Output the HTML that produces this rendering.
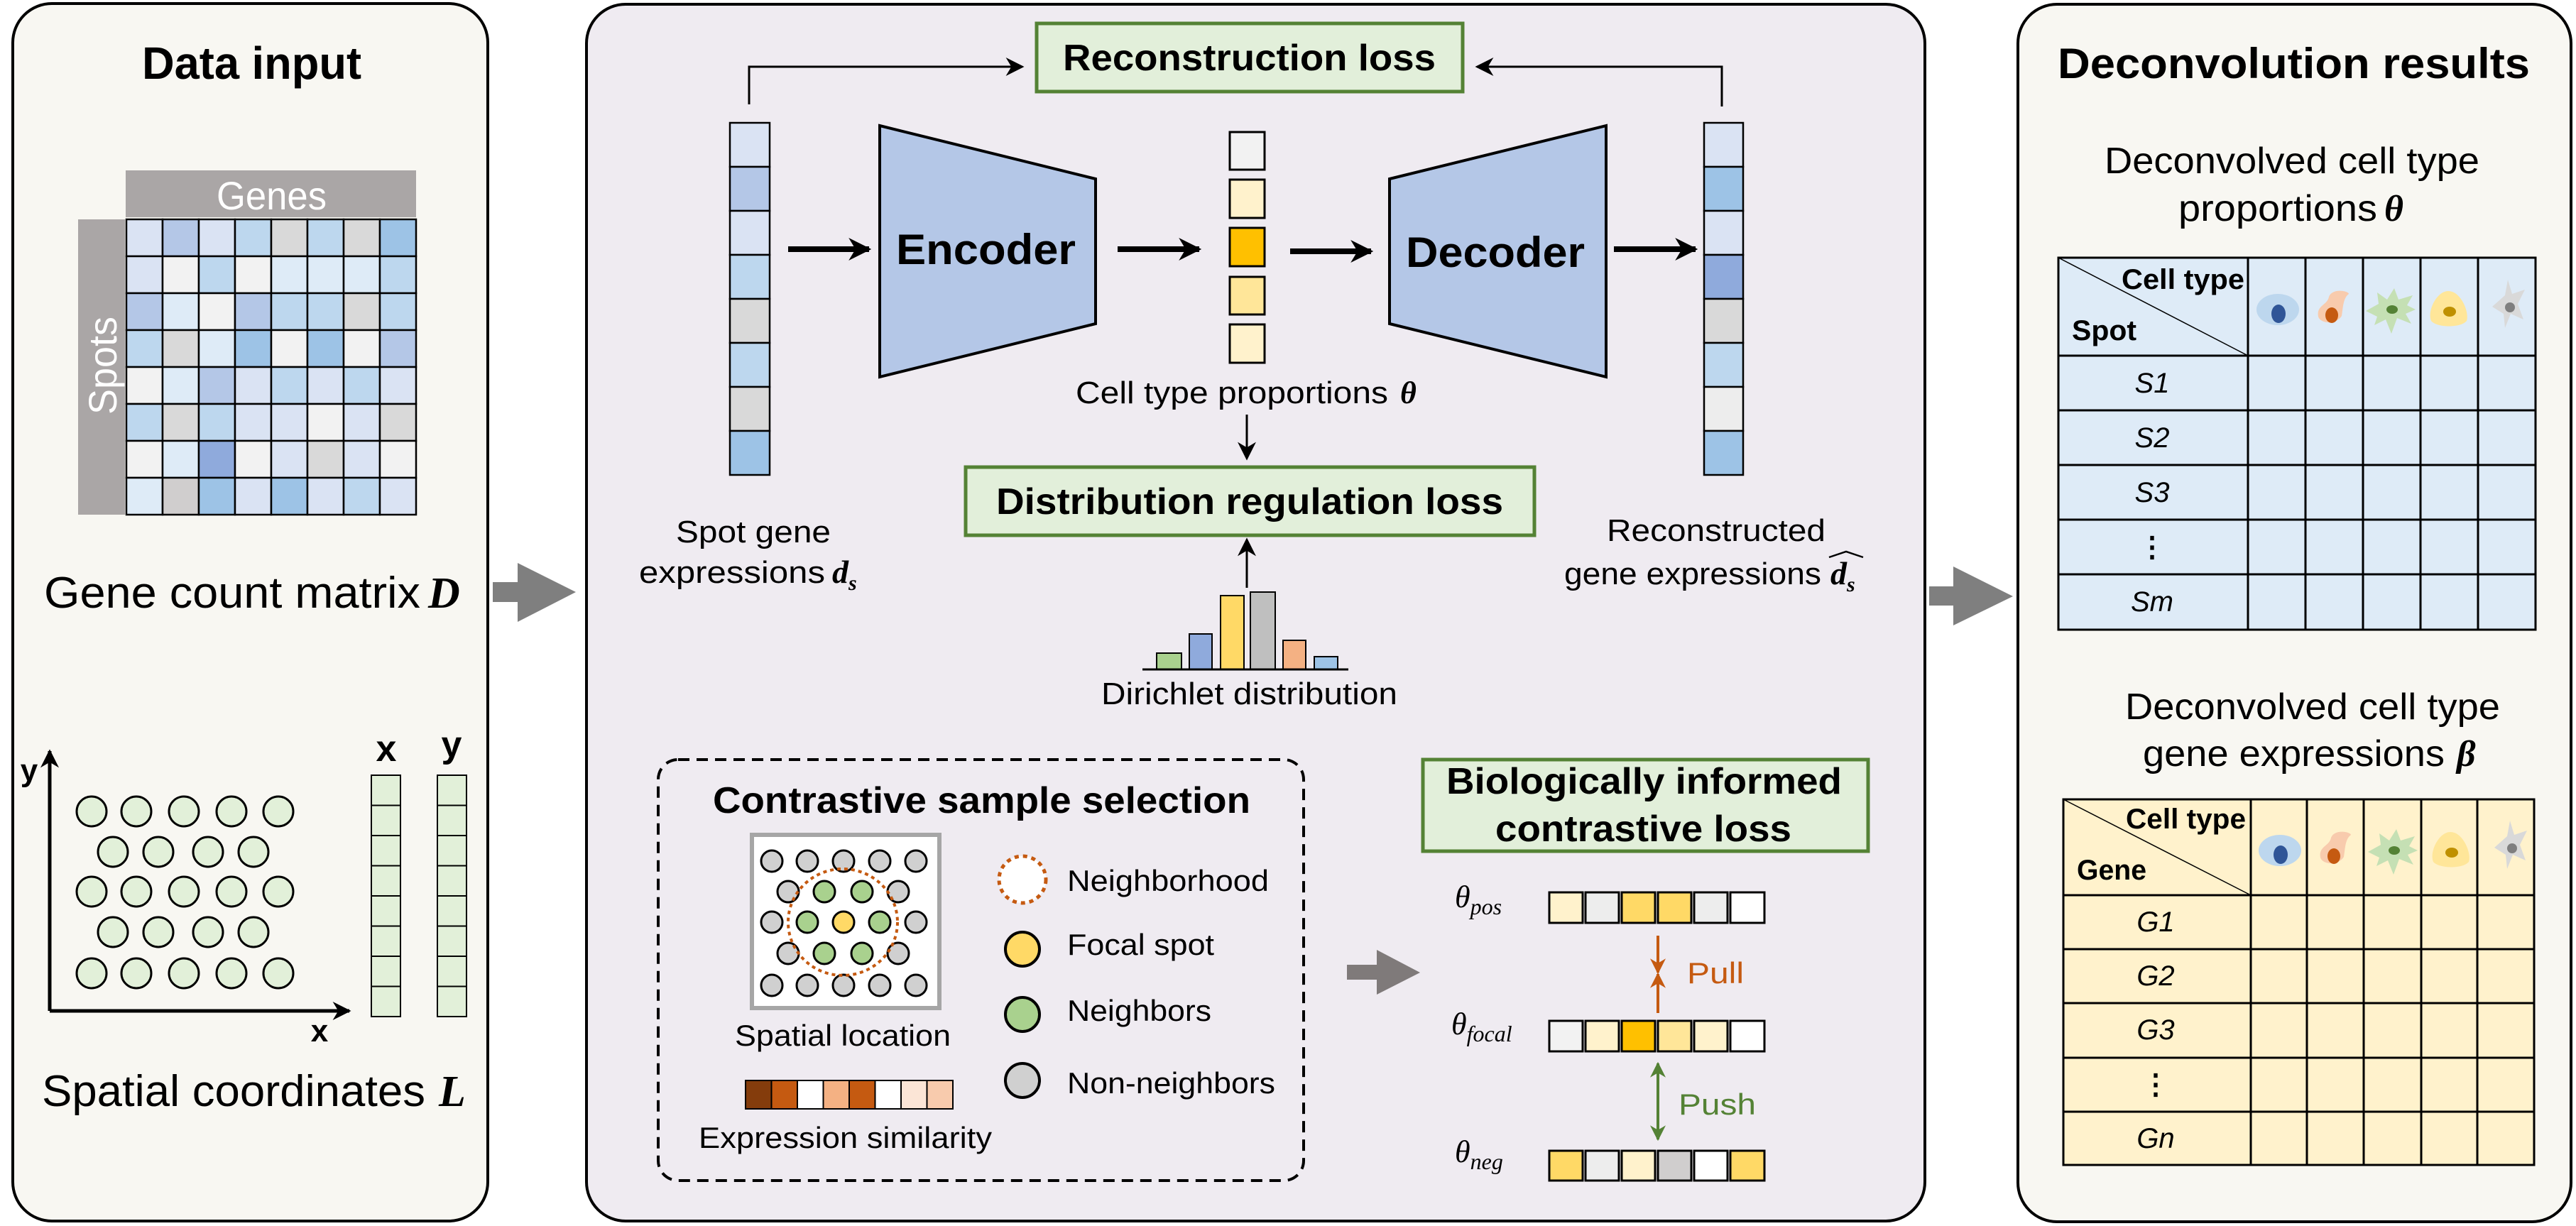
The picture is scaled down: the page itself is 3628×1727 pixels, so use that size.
<!DOCTYPE html>
<html><head><meta charset="utf-8"><style>
html,body{margin:0;padding:0;background:#fff}
svg{display:block}
text{font-family:"Liberation Sans",sans-serif}
.b{font-weight:bold}
.m{font-family:"Liberation Serif",serif;font-style:italic}
</style></head><body>
<svg width="3628" height="1727" viewBox="0 0 3628 1727" xmlns="http://www.w3.org/2000/svg">
<defs>
<marker id="ah" viewBox="0 0 10 10" refX="9" refY="5" markerWidth="6" markerHeight="6" orient="auto-start-reverse" markerUnits="userSpaceOnUse"><path d="M0,0L10,5L0,10L3,5z" fill="#000"/></marker>
<marker id="ahs" viewBox="0 0 10 10" refX="9" refY="5" markerWidth="26" markerHeight="26" orient="auto-start-reverse" markerUnits="userSpaceOnUse"><path d="M0,0L10,5L0,10L3,5z" fill="#000"/></marker>
<marker id="ahb" viewBox="0 0 10 10" refX="9" refY="5" markerWidth="32" markerHeight="32" orient="auto-start-reverse" markerUnits="userSpaceOnUse"><path d="M0,0L10,5L0,10L3,5z" fill="#000"/></marker>
<marker id="aho" viewBox="0 0 10 10" refX="9" refY="5" markerWidth="22" markerHeight="22" orient="auto-start-reverse" markerUnits="userSpaceOnUse"><path d="M0,0L10,5L0,10L3,5z" fill="#c55a11"/></marker>
<marker id="ahg" viewBox="0 0 10 10" refX="9" refY="5" markerWidth="22" markerHeight="22" orient="auto-start-reverse" markerUnits="userSpaceOnUse"><path d="M0,0L10,5L0,10L3,5z" fill="#548235"/></marker>
</defs>

<!-- LEFT PANEL -->
<rect x="18" y="5" width="669" height="1715" rx="55" fill="#f8f7f2" stroke="#000" stroke-width="4"/>
<text x="200" y="111" class="b" font-size="64" textLength="309" lengthAdjust="spacingAndGlyphs">Data input</text>
<rect x="177" y="240" width="409" height="66" fill="#aaa6a6"/>
<text x="305" y="295" font-size="56" fill="#fff" textLength="155" lengthAdjust="spacingAndGlyphs">Genes</text>
<rect x="110" y="309" width="66" height="416" fill="#aaa6a6"/>
<text transform="translate(164,584) rotate(-90)" font-size="56" fill="#fff" textLength="138" lengthAdjust="spacingAndGlyphs">Spots</text>
<g stroke="#000" stroke-width="2.5">
<rect x="178" y="309" width="51" height="52" fill="#dae3f3"/><rect x="229" y="309" width="51" height="52" fill="#b4c7e7"/><rect x="280" y="309" width="51" height="52" fill="#dae3f3"/><rect x="331" y="309" width="51" height="52" fill="#bdd7ee"/><rect x="382" y="309" width="51" height="52" fill="#d9d9d9"/><rect x="433" y="309" width="51" height="52" fill="#bdd7ee"/><rect x="484" y="309" width="51" height="52" fill="#d9d9d9"/><rect x="535" y="309" width="51" height="52" fill="#9dc3e6"/>
<rect x="178" y="361" width="51" height="52" fill="#dae3f3"/><rect x="229" y="361" width="51" height="52" fill="#f2f2f2"/><rect x="280" y="361" width="51" height="52" fill="#bdd7ee"/><rect x="331" y="361" width="51" height="52" fill="#f2f2f2"/><rect x="382" y="361" width="51" height="52" fill="#deebf7"/><rect x="433" y="361" width="51" height="52" fill="#deebf7"/><rect x="484" y="361" width="51" height="52" fill="#deebf7"/><rect x="535" y="361" width="51" height="52" fill="#bdd7ee"/>
<rect x="178" y="413" width="51" height="52" fill="#b4c7e7"/><rect x="229" y="413" width="51" height="52" fill="#deebf7"/><rect x="280" y="413" width="51" height="52" fill="#f2f2f2"/><rect x="331" y="413" width="51" height="52" fill="#b4c7e7"/><rect x="382" y="413" width="51" height="52" fill="#bdd7ee"/><rect x="433" y="413" width="51" height="52" fill="#bdd7ee"/><rect x="484" y="413" width="51" height="52" fill="#d9d9d9"/><rect x="535" y="413" width="51" height="52" fill="#bdd7ee"/>
<rect x="178" y="465" width="51" height="52" fill="#bdd7ee"/><rect x="229" y="465" width="51" height="52" fill="#d9d9d9"/><rect x="280" y="465" width="51" height="52" fill="#deebf7"/><rect x="331" y="465" width="51" height="52" fill="#9dc3e6"/><rect x="382" y="465" width="51" height="52" fill="#f2f2f2"/><rect x="433" y="465" width="51" height="52" fill="#9dc3e6"/><rect x="484" y="465" width="51" height="52" fill="#f2f2f2"/><rect x="535" y="465" width="51" height="52" fill="#b4c7e7"/>
<rect x="178" y="517" width="51" height="52" fill="#f2f2f2"/><rect x="229" y="517" width="51" height="52" fill="#deebf7"/><rect x="280" y="517" width="51" height="52" fill="#b4c7e7"/><rect x="331" y="517" width="51" height="52" fill="#dae3f3"/><rect x="382" y="517" width="51" height="52" fill="#bdd7ee"/><rect x="433" y="517" width="51" height="52" fill="#dae3f3"/><rect x="484" y="517" width="51" height="52" fill="#bdd7ee"/><rect x="535" y="517" width="51" height="52" fill="#dae3f3"/>
<rect x="178" y="569" width="51" height="52" fill="#bdd7ee"/><rect x="229" y="569" width="51" height="52" fill="#d9d9d9"/><rect x="280" y="569" width="51" height="52" fill="#bdd7ee"/><rect x="331" y="569" width="51" height="52" fill="#dae3f3"/><rect x="382" y="569" width="51" height="52" fill="#dae3f3"/><rect x="433" y="569" width="51" height="52" fill="#f2f2f2"/><rect x="484" y="569" width="51" height="52" fill="#dae3f3"/><rect x="535" y="569" width="51" height="52" fill="#d9d9d9"/>
<rect x="178" y="621" width="51" height="52" fill="#f2f2f2"/><rect x="229" y="621" width="51" height="52" fill="#deebf7"/><rect x="280" y="621" width="51" height="52" fill="#8faadc"/><rect x="331" y="621" width="51" height="52" fill="#f2f2f2"/><rect x="382" y="621" width="51" height="52" fill="#dae3f3"/><rect x="433" y="621" width="51" height="52" fill="#d9d9d9"/><rect x="484" y="621" width="51" height="52" fill="#dae3f3"/><rect x="535" y="621" width="51" height="52" fill="#f2f2f2"/>
<rect x="178" y="673" width="51" height="52" fill="#deebf7"/><rect x="229" y="673" width="51" height="52" fill="#d0cece"/><rect x="280" y="673" width="51" height="52" fill="#9dc3e6"/><rect x="331" y="673" width="51" height="52" fill="#dae3f3"/><rect x="382" y="673" width="51" height="52" fill="#9dc3e6"/><rect x="433" y="673" width="51" height="52" fill="#dae3f3"/><rect x="484" y="673" width="51" height="52" fill="#bdd7ee"/><rect x="535" y="673" width="51" height="52" fill="#dae3f3"/>
</g>
<text x="62" y="856" font-size="62" textLength="530" lengthAdjust="spacingAndGlyphs">Gene count matrix</text>
<text x="603" y="856" font-size="62" class="m" font-weight="bold">D</text>

<!-- axes -->
<line x1="70" y1="1424" x2="70" y2="1058" stroke="#000" stroke-width="5" marker-end="url(#ahs)"/>
<line x1="70" y1="1424" x2="492" y2="1424" stroke="#000" stroke-width="5" marker-end="url(#ahs)"/>
<text x="41" y="1100" class="b" font-size="44" text-anchor="middle">y</text>
<text x="450" y="1467" class="b" font-size="44" text-anchor="middle">x</text>
<g fill="#e2f0d9" stroke="#000" stroke-width="3">
<circle cx="129" cy="1143" r="21"/><circle cx="192" cy="1143" r="21"/><circle cx="259" cy="1143" r="21"/><circle cx="326" cy="1143" r="21"/><circle cx="392" cy="1143" r="21"/>
<circle cx="159" cy="1200" r="21"/><circle cx="223" cy="1200" r="21"/><circle cx="293" cy="1200" r="21"/><circle cx="357" cy="1200" r="21"/>
<circle cx="129" cy="1256" r="21"/><circle cx="192" cy="1256" r="21"/><circle cx="259" cy="1256" r="21"/><circle cx="326" cy="1256" r="21"/><circle cx="392" cy="1256" r="21"/>
<circle cx="159" cy="1313" r="21"/><circle cx="223" cy="1313" r="21"/><circle cx="293" cy="1313" r="21"/><circle cx="357" cy="1313" r="21"/>
<circle cx="129" cy="1371" r="21"/><circle cx="192" cy="1371" r="21"/><circle cx="259" cy="1371" r="21"/><circle cx="326" cy="1371" r="21"/><circle cx="392" cy="1371" r="21"/>
</g>
<g fill="#e2f0d9" stroke="#000" stroke-width="2">
<rect x="523" y="1092" width="41" height="42.5"/><rect x="523" y="1134.5" width="41" height="42.5"/><rect x="523" y="1177" width="41" height="42.5"/><rect x="523" y="1219.5" width="41" height="42.5"/><rect x="523" y="1262" width="41" height="42.5"/><rect x="523" y="1304.5" width="41" height="42.5"/><rect x="523" y="1347" width="41" height="42.5"/><rect x="523" y="1389.5" width="41" height="42.5"/>
<rect x="616" y="1092" width="41" height="42.5"/><rect x="616" y="1134.5" width="41" height="42.5"/><rect x="616" y="1177" width="41" height="42.5"/><rect x="616" y="1219.5" width="41" height="42.5"/><rect x="616" y="1262" width="41" height="42.5"/><rect x="616" y="1304.5" width="41" height="42.5"/><rect x="616" y="1347" width="41" height="42.5"/><rect x="616" y="1389.5" width="41" height="42.5"/>
</g>
<text x="544" y="1072" class="b" font-size="52" text-anchor="middle">x</text>
<text x="636" y="1066" class="b" font-size="52" text-anchor="middle">y</text>
<text x="59" y="1558" font-size="62" textLength="540" lengthAdjust="spacingAndGlyphs">Spatial coordinates</text>
<text x="618" y="1558" font-size="62" class="m" font-weight="bold">L</text>

<!-- arrow left->middle -->
<path d="M694,820 L729,820 L729,793 L811,834 L729,876 L729,848 L694,848 Z" fill="#7f7f7f"/>

<!-- MIDDLE PANEL -->
<rect x="826" y="6" width="1885" height="1714" rx="55" fill="#efebf1" stroke="#000" stroke-width="4"/>
<rect x="1460" y="33" width="600" height="96" fill="#e2efda" stroke="#548235" stroke-width="5"/>
<text x="1497" y="99" class="b" font-size="52" textLength="525" lengthAdjust="spacingAndGlyphs">Reconstruction loss</text>
<polyline points="1055,147 1055,94 1440,94" fill="none" stroke="#000" stroke-width="3" marker-end="url(#ahs)"/>
<polyline points="2425,150 2425,94 2080,94" fill="none" stroke="#000" stroke-width="3" marker-end="url(#ahs)"/>

<g stroke="#000" stroke-width="2.5">
<rect x="1028" y="173" width="56" height="62" fill="#dae3f3"/><rect x="1028" y="235" width="56" height="62" fill="#b4c7e7"/><rect x="1028" y="297" width="56" height="62" fill="#dae3f3"/><rect x="1028" y="359" width="56" height="62" fill="#bdd7ee"/><rect x="1028" y="421" width="56" height="62" fill="#d9d9d9"/><rect x="1028" y="483" width="56" height="62" fill="#bdd7ee"/><rect x="1028" y="545" width="56" height="62" fill="#d9d9d9"/><rect x="1028" y="607" width="56" height="62" fill="#9dc3e6"/>
<rect x="2400" y="173" width="55" height="62" fill="#dae3f3"/><rect x="2400" y="235" width="55" height="62" fill="#9dc3e6"/><rect x="2400" y="297" width="55" height="62" fill="#dae3f3"/><rect x="2400" y="359" width="55" height="62" fill="#8faadc"/><rect x="2400" y="421" width="55" height="62" fill="#d9d9d9"/><rect x="2400" y="483" width="55" height="62" fill="#bdd7ee"/><rect x="2400" y="545" width="55" height="62" fill="#ededed"/><rect x="2400" y="607" width="55" height="62" fill="#9dc3e6"/>
</g>
<polygon points="1239,177 1543,252 1543,456 1239,531" fill="#b4c7e7" stroke="#000" stroke-width="4"/>
<polygon points="1957,252 2262,177 2262,531 1957,456" fill="#b4c7e7" stroke="#000" stroke-width="4"/>
<text x="1262" y="372" class="b" font-size="60" textLength="253" lengthAdjust="spacingAndGlyphs">Encoder</text>
<text x="1980" y="376" class="b" font-size="60" textLength="252" lengthAdjust="spacingAndGlyphs">Decoder</text>
<g stroke="#000" stroke-width="8">
<line x1="1110" y1="351" x2="1224" y2="351" marker-end="url(#ahb)"/>
<line x1="1574" y1="351" x2="1689" y2="351" marker-end="url(#ahb)"/>
<line x1="1817" y1="354" x2="1931" y2="354" marker-end="url(#ahb)"/>
<line x1="2273" y1="351" x2="2388" y2="351" marker-end="url(#ahb)"/>
</g>
<g stroke="#000" stroke-width="3">
<rect x="1732" y="186" width="49" height="53" fill="#f2f2f2"/>
<rect x="1732" y="253" width="49" height="54" fill="#fff2cc"/>
<rect x="1732" y="321" width="49" height="54" fill="#ffc000"/>
<rect x="1732" y="390" width="49" height="53" fill="#ffe699"/>
<rect x="1732" y="457" width="49" height="54" fill="#fff2cc"/>
</g>
<text x="1515" y="568" font-size="44" textLength="440" lengthAdjust="spacingAndGlyphs">Cell type proportions</text>
<text x="1972" y="568" font-size="44" class="m" font-weight="bold">θ</text>
<line x1="1756" y1="584" x2="1756" y2="646" stroke="#000" stroke-width="3" marker-end="url(#ahs)"/>
<rect x="1360" y="658" width="801" height="96" fill="#e2efda" stroke="#548235" stroke-width="5"/>
<text x="1403" y="724" class="b" font-size="52" textLength="714" lengthAdjust="spacingAndGlyphs">Distribution regulation loss</text>
<line x1="1756" y1="828" x2="1756" y2="760" stroke="#000" stroke-width="3" marker-end="url(#ahs)"/>
<g stroke="#000" stroke-width="2">
<rect x="1629" y="920" width="35" height="23" fill="#a9d18e"/>
<rect x="1675" y="893" width="32" height="50" fill="#8faadc"/>
<rect x="1719" y="839" width="33" height="104" fill="#ffd966"/>
<rect x="1761" y="834" width="35" height="109" fill="#bfbfbf"/>
<rect x="1807" y="902" width="32" height="41" fill="#f4b183"/>
<rect x="1851" y="925" width="33" height="18" fill="#9dc3e6"/>
</g>
<line x1="1609" y1="943" x2="1899" y2="943" stroke="#000" stroke-width="3"/>
<text x="1551" y="992" font-size="44" textLength="417" lengthAdjust="spacingAndGlyphs">Dirichlet distribution</text>
<text x="952" y="764" font-size="44" textLength="218" lengthAdjust="spacingAndGlyphs">Spot gene</text>
<text x="900" y="821" font-size="44" textLength="262" lengthAdjust="spacingAndGlyphs">expressions</text>
<text x="1172" y="821" font-size="46" class="m" font-weight="bold">d<tspan font-size="30" dy="10">s</tspan></text>
<text x="2263" y="762" font-size="44" textLength="308" lengthAdjust="spacingAndGlyphs">Reconstructed</text>
<text x="2203" y="823" font-size="44" textLength="362" lengthAdjust="spacingAndGlyphs">gene expressions</text>
<text x="2578" y="823" font-size="46" class="m" font-weight="bold">d<tspan font-size="30" dy="10">s</tspan></text>
<polyline points="2576,785 2600,777 2624,785" fill="none" stroke="#000" stroke-width="2.5"/>

<!-- contrastive -->
<rect x="927" y="1070" width="909" height="593" rx="28" fill="none" stroke="#000" stroke-width="4" stroke-dasharray="16,10"/>
<text x="1004" y="1145" class="b" font-size="52" textLength="757" lengthAdjust="spacingAndGlyphs">Contrastive sample selection</text>
<rect x="1059" y="1176" width="264" height="244" fill="#fff" stroke="#a6a6a6" stroke-width="6"/>
<g stroke="#000" stroke-width="3">
<g fill="#d0d0d0">
<circle cx="1087" cy="1213" r="15"/><circle cx="1137" cy="1213" r="15"/><circle cx="1188" cy="1213" r="15"/><circle cx="1239" cy="1213" r="15"/><circle cx="1290" cy="1213" r="15"/>
<circle cx="1110" cy="1256" r="15"/><circle cx="1265" cy="1256" r="15"/>
<circle cx="1087" cy="1299" r="15"/><circle cx="1290" cy="1299" r="15"/>
<circle cx="1110" cy="1343" r="15"/><circle cx="1265" cy="1343" r="15"/>
<circle cx="1087" cy="1388" r="15"/><circle cx="1137" cy="1388" r="15"/><circle cx="1188" cy="1388" r="15"/><circle cx="1239" cy="1388" r="15"/><circle cx="1290" cy="1388" r="15"/>
</g>
<g fill="#a9d18e">
<circle cx="1161" cy="1256" r="15"/><circle cx="1214" cy="1256" r="15"/>
<circle cx="1137" cy="1299" r="15"/><circle cx="1239" cy="1299" r="15"/>
<circle cx="1161" cy="1343" r="15"/><circle cx="1214" cy="1343" r="15"/>
</g>
<circle cx="1188" cy="1299" r="15" fill="#ffd966"/>
</g>
<ellipse cx="1187" cy="1299" rx="77" ry="75" fill="none" stroke="#c55a11" stroke-width="4" stroke-dasharray="5,5"/>
<circle cx="1440" cy="1239" r="33" fill="#fff" stroke="#c55a11" stroke-width="5" stroke-dasharray="6,6"/>
<circle cx="1440" cy="1337" r="24" fill="#ffd966" stroke="#000" stroke-width="4"/>
<circle cx="1440" cy="1429" r="24" fill="#a9d18e" stroke="#000" stroke-width="4"/>
<circle cx="1440" cy="1522" r="24" fill="#d0d0d0" stroke="#000" stroke-width="4"/>
<text x="1503" y="1255" font-size="42" textLength="284" lengthAdjust="spacingAndGlyphs">Neighborhood</text>
<text x="1503" y="1345" font-size="42" textLength="207" lengthAdjust="spacingAndGlyphs">Focal spot</text>
<text x="1503" y="1438" font-size="42" textLength="203" lengthAdjust="spacingAndGlyphs">Neighbors</text>
<text x="1503" y="1540" font-size="42" textLength="293" lengthAdjust="spacingAndGlyphs">Non-neighbors</text>
<text x="1035" y="1473" font-size="42" textLength="304" lengthAdjust="spacingAndGlyphs">Spatial location</text>
<g stroke="#000" stroke-width="2">
<rect x="1050" y="1522" width="36.5" height="40" fill="#843c0c"/><rect x="1086.5" y="1522" width="36.5" height="40" fill="#c55a11"/><rect x="1123" y="1522" width="36.5" height="40" fill="#fff"/><rect x="1159.5" y="1522" width="36.5" height="40" fill="#f4b183"/><rect x="1196" y="1522" width="36.5" height="40" fill="#c55a11"/><rect x="1232.5" y="1522" width="36.5" height="40" fill="#fff"/><rect x="1269" y="1522" width="36.5" height="40" fill="#fbe5d6"/><rect x="1305.5" y="1522" width="36.5" height="40" fill="#f8cbad"/>
</g>
<text x="984" y="1617" font-size="42" textLength="413" lengthAdjust="spacingAndGlyphs">Expression similarity</text>
<path d="M1897,1359 L1939,1359 L1939,1338 L2000,1370 L1939,1401 L1939,1380 L1897,1380 Z" fill="#7f7a7a"/>

<rect x="2004" y="1070" width="627" height="129" fill="#e2efda" stroke="#548235" stroke-width="5"/>
<text x="2037" y="1118" class="b" font-size="52" textLength="557" lengthAdjust="spacingAndGlyphs">Biologically informed</text>
<text x="2106" y="1185" class="b" font-size="52" textLength="417" lengthAdjust="spacingAndGlyphs">contrastive loss</text>
<text x="2049" y="1278" class="m" font-size="44">θ<tspan font-size="32" dy="10">pos</tspan></text>
<text x="2044" y="1457" class="m" font-size="44">θ<tspan font-size="32" dy="10">focal</tspan></text>
<text x="2049" y="1637" class="m" font-size="44">θ<tspan font-size="32" dy="10">neg</tspan></text>
<g stroke="#000" stroke-width="3">
<rect x="2182" y="1257" width="47" height="43" fill="#fff2cc"/><rect x="2233" y="1257" width="47" height="43" fill="#ededed"/><rect x="2284" y="1257" width="47" height="43" fill="#ffd966"/><rect x="2335" y="1257" width="47" height="43" fill="#ffd966"/><rect x="2386" y="1257" width="47" height="43" fill="#ededed"/><rect x="2437" y="1257" width="48" height="43" fill="#fff"/>
<rect x="2182" y="1438" width="47" height="43" fill="#f2f2f2"/><rect x="2233" y="1438" width="47" height="43" fill="#fff2cc"/><rect x="2284" y="1438" width="47" height="43" fill="#ffc000"/><rect x="2335" y="1438" width="47" height="43" fill="#ffe699"/><rect x="2386" y="1438" width="47" height="43" fill="#fff2cc"/><rect x="2437" y="1438" width="48" height="43" fill="#fff"/>
<rect x="2182" y="1621" width="47" height="42" fill="#ffd966"/><rect x="2233" y="1621" width="47" height="42" fill="#ededed"/><rect x="2284" y="1621" width="47" height="42" fill="#fff2cc"/><rect x="2335" y="1621" width="47" height="42" fill="#d0cece"/><rect x="2386" y="1621" width="47" height="42" fill="#fff"/><rect x="2437" y="1621" width="48" height="42" fill="#ffd966"/>
</g>
<line x1="2335" y1="1318" x2="2335" y2="1370" stroke="#c55a11" stroke-width="4" marker-end="url(#aho)"/>
<line x1="2335" y1="1427" x2="2335" y2="1372" stroke="#c55a11" stroke-width="4" marker-end="url(#aho)"/>
<text x="2376" y="1385" font-size="42" fill="#c55a11" textLength="80" lengthAdjust="spacingAndGlyphs">Pull</text>
<line x1="2335" y1="1498" x2="2335" y2="1605" stroke="#548235" stroke-width="4" marker-start="url(#ahg)" marker-end="url(#ahg)"/>
<text x="2364" y="1570" font-size="42" fill="#548235" textLength="109" lengthAdjust="spacingAndGlyphs">Push</text>

<!-- arrow middle->right -->
<path d="M2717,826 L2751,826 L2751,798 L2835,840 L2751,881 L2751,853 L2717,853 Z" fill="#7f7f7f"/>

<!-- RIGHT PANEL -->
<rect x="2842" y="6" width="779" height="1715" rx="55" fill="#f8f7f2" stroke="#000" stroke-width="4"/>
<text x="2898" y="110" class="b" font-size="60" textLength="665" lengthAdjust="spacingAndGlyphs">Deconvolution results</text>
<text x="2964" y="244" font-size="52" textLength="528" lengthAdjust="spacingAndGlyphs">Deconvolved cell type</text>
<text x="3068" y="311" font-size="52" textLength="280" lengthAdjust="spacingAndGlyphs">proportions</text>
<text x="3358" y="311" font-size="52" class="m" font-weight="bold">θ</text>

<!-- table 1 -->
<rect x="2899" y="363" width="672" height="524" fill="#deebf7"/>
<g stroke="#000" stroke-width="3" fill="none">
<rect x="2899" y="363" width="672" height="524"/>
<line x1="2899" y1="501" x2="3571" y2="501"/><line x1="2899" y1="578" x2="3571" y2="578"/><line x1="2899" y1="655" x2="3571" y2="655"/><line x1="2899" y1="732" x2="3571" y2="732"/><line x1="2899" y1="809" x2="3571" y2="809"/>
<line x1="3166" y1="363" x2="3166" y2="887"/><line x1="3247" y1="363" x2="3247" y2="887"/><line x1="3328" y1="363" x2="3328" y2="887"/><line x1="3409" y1="363" x2="3409" y2="887"/><line x1="3490" y1="363" x2="3490" y2="887"/>
<line x1="2899" y1="363" x2="3166" y2="501" stroke-width="1.5"/>
</g>
<text x="2988" y="407" class="b" font-size="40" textLength="173" lengthAdjust="spacingAndGlyphs">Cell type</text>
<text x="2918" y="479" class="b" font-size="40" textLength="91" lengthAdjust="spacingAndGlyphs">Spot</text>
<g class="m" font-size="40" text-anchor="middle" font-family="Liberation Serif">
<text x="3031" y="553">S1</text><text x="3031" y="630">S2</text><text x="3031" y="707">S3</text><text x="3031" y="784" font-style="normal" font-weight="bold">⋮</text><text x="3031" y="861">Sm</text>
</g>
<!-- icons t1 -->
<g>
<ellipse cx="3208" cy="436" rx="30" ry="22" fill="#bdd7ee"/><ellipse cx="3209" cy="442" rx="10" ry="13" fill="#2f5597"/>
<path d="M3265,446 C3262,430 3278,430 3280,418 C3285,405 3308,410 3308,414 C3300,420 3300,432 3298,445 C3290,458 3268,456 3265,446Z" fill="#f8cbad"/><ellipse cx="3284" cy="444" rx="9" ry="11" fill="#c55a11"/>
<path d="M3332,438 L3350,428 L3348,412 L3362,422 L3372,406 L3378,422 L3398,416 L3390,430 L3402,436 L3388,442 L3396,456 L3376,448 L3368,470 L3360,450 L3344,458 L3348,446Z" fill="#c5e0b4"/><ellipse cx="3369" cy="436" rx="8" ry="6" fill="#548235"/>
<path d="M3424,452 C3418,438 3432,410 3448,410 C3466,410 3478,440 3474,452 C3466,462 3432,462 3424,452Z" fill="#ffe699"/><ellipse cx="3450" cy="439" rx="9" ry="7" fill="#bf9000"/>
<path d="M3510,432 L3528,416 L3532,394 L3538,414 L3556,408 L3546,428 L3554,450 L3536,442 L3528,462 L3526,442Z" fill="#d9d9d9"/><circle cx="3535" cy="433" r="7" fill="#7f7f7f"/>
</g>

<text x="2993" y="1013" font-size="52" textLength="528" lengthAdjust="spacingAndGlyphs">Deconvolved cell type</text>
<text x="3018" y="1079" font-size="52" textLength="425" lengthAdjust="spacingAndGlyphs">gene expressions</text>
<text x="3460" y="1079" font-size="52" class="m" font-weight="bold">β</text>

<!-- table 2 -->
<rect x="2906" y="1126" width="663" height="515" fill="#fff2cc"/>
<g stroke="#000" stroke-width="3" fill="none">
<rect x="2906" y="1126" width="663" height="515"/>
<line x1="2906" y1="1261" x2="3569" y2="1261"/><line x1="2906" y1="1337" x2="3569" y2="1337"/><line x1="2906" y1="1413" x2="3569" y2="1413"/><line x1="2906" y1="1490" x2="3569" y2="1490"/><line x1="2906" y1="1566" x2="3569" y2="1566"/>
<line x1="3170" y1="1126" x2="3170" y2="1641"/><line x1="3249" y1="1126" x2="3249" y2="1641"/><line x1="3329" y1="1126" x2="3329" y2="1641"/><line x1="3410" y1="1126" x2="3410" y2="1641"/><line x1="3489" y1="1126" x2="3489" y2="1641"/>
<line x1="2906" y1="1126" x2="3170" y2="1261" stroke-width="1.5"/>
</g>
<text x="2994" y="1167" class="b" font-size="40" textLength="169" lengthAdjust="spacingAndGlyphs">Cell type</text>
<text x="2925" y="1239" class="b" font-size="40" textLength="98" lengthAdjust="spacingAndGlyphs">Gene</text>
<g class="m" font-size="40" text-anchor="middle" font-family="Liberation Serif">
<text x="3036" y="1312">G1</text><text x="3036" y="1388">G2</text><text x="3036" y="1464">G3</text><text x="3036" y="1541" font-style="normal" font-weight="bold">⋮</text><text x="3036" y="1617">Gn</text>
</g>
<g transform="translate(3,762)">
<ellipse cx="3208" cy="436" rx="30" ry="22" fill="#bdd7ee"/><ellipse cx="3209" cy="442" rx="10" ry="13" fill="#2f5597"/>
<path d="M3265,446 C3262,430 3278,430 3280,418 C3285,405 3308,410 3308,414 C3300,420 3300,432 3298,445 C3290,458 3268,456 3265,446Z" fill="#f8cbad"/><ellipse cx="3284" cy="444" rx="9" ry="11" fill="#c55a11"/>
<path d="M3332,438 L3350,428 L3348,412 L3362,422 L3372,406 L3378,422 L3398,416 L3390,430 L3402,436 L3388,442 L3396,456 L3376,448 L3368,470 L3360,450 L3344,458 L3348,446Z" fill="#c5e0b4"/><ellipse cx="3369" cy="436" rx="8" ry="6" fill="#548235"/>
<path d="M3424,452 C3418,438 3432,410 3448,410 C3466,410 3478,440 3474,452 C3466,462 3432,462 3424,452Z" fill="#ffe699"/><ellipse cx="3450" cy="439" rx="9" ry="7" fill="#bf9000"/>
<path d="M3510,432 L3528,416 L3532,394 L3538,414 L3556,408 L3546,428 L3554,450 L3536,442 L3528,462 L3526,442Z" fill="#d9d9d9"/><circle cx="3535" cy="433" r="7" fill="#7f7f7f"/>
</g>
</svg>
</body></html>
